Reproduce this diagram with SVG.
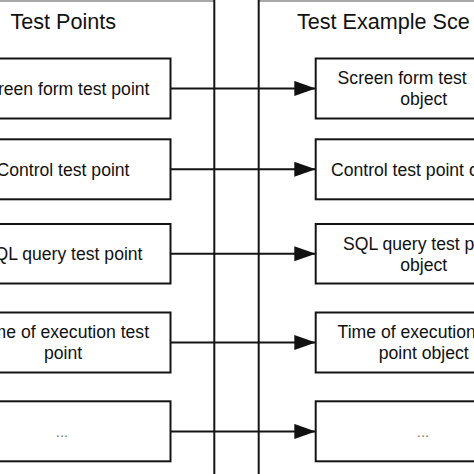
<svg xmlns="http://www.w3.org/2000/svg" width="474" height="474" viewBox="0 0 474 474">
<defs>
<style>
.box{fill:#fff;stroke:#141414;stroke-width:2}
.lane{fill:none;stroke:#141414;stroke-width:2}
.conn{fill:none;stroke:#141414;stroke-width:2}
.t{font-family:"Liberation Sans",Arial,sans-serif;font-size:17.6px;fill:#111}
.title{font-family:"Liberation Sans",Arial,sans-serif;font-size:21.6px;fill:#111}
.dots{font-family:"Liberation Sans",Arial,sans-serif;font-size:15px;fill:#777}
.m{text-anchor:middle}
</style>
<marker id="arr" markerUnits="userSpaceOnUse" markerWidth="22" markerHeight="16" refX="21.4" refY="7.5" orient="auto">
<path d="M0,0 L21.4,7.5 L0,15 Z" fill="#111"/>
</marker>
</defs>
<rect width="474" height="474" fill="#fff"/>
<g id="lanes">
<rect x="0" y="0" width="214" height="2" fill="#a8a8a8"/>
<rect x="259" y="0" width="215" height="2" fill="#a8a8a8"/>
<line class="lane" x1="214.3" y1="0" x2="214.3" y2="474"/>
<line class="lane" x1="258.7" y1="0" x2="258.7" y2="474"/>
</g>
<g id="title-left"><text class="title m" x="63.3" y="29">Test Points</text></g>
<g id="title-right"><text class="title" x="297" y="29">Test Example Sce</text></g>
<g id="connectors">
<line class="conn" x1="170.5" y1="88.4" x2="315.7" y2="88.4" marker-end="url(#arr)"/>
<line class="conn" x1="170.5" y1="169.3" x2="315.7" y2="169.3" marker-end="url(#arr)"/>
<line class="conn" x1="170.5" y1="253.7" x2="315.7" y2="253.7" marker-end="url(#arr)"/>
<line class="conn" x1="170.5" y1="342.5" x2="315.7" y2="342.5" marker-end="url(#arr)"/>
<line class="conn" x1="170.5" y1="431.4" x2="315.7" y2="431.4" marker-end="url(#arr)"/>
</g>
<g id="tp1"><rect class="box" x="-45" y="58.5" width="215.5" height="60"/><text class="t" x="-2.1" y="94.7">reen form test point</text></g>
<g id="tp2"><rect class="box" x="-45" y="139.3" width="215.5" height="60"/><text class="t" x="-3.5" y="175.6">Control test point</text></g>
<g id="tp3"><rect class="box" x="-45" y="224" width="215.5" height="59.5"/><text class="t" x="-5.5" y="260">QL query test point</text></g>
<g id="tp4"><rect class="box" x="-45" y="312.5" width="215.5" height="60"/><text class="t" x="-8.4" y="338.3">me of execution test</text><text class="t m" x="63" y="359.3">point</text></g>
<g id="tp5"><rect class="box" x="-45" y="401.3" width="215.5" height="60"/><text class="dots m" x="62" y="437">...</text></g>
<g id="ob1"><rect class="box" x="315.7" y="58.5" width="220" height="60"/><text class="t" x="337.6" y="84">Screen form test</text><text class="t m" x="423.7" y="105">object</text></g>
<g id="ob2"><rect class="box" x="315.7" y="139.3" width="220" height="60"/><text class="t" x="331" y="175.6">Control test point o</text></g>
<g id="ob3"><rect class="box" x="315.7" y="224" width="220" height="59.5"/><text class="t" x="343" y="249.5">SQL query test p</text><text class="t m" x="423.7" y="270.5">object</text></g>
<g id="ob4"><rect class="box" x="315.7" y="312.5" width="220" height="60"/><text class="t" x="337.6" y="338.3">Time of execution</text><text class="t m" x="423.7" y="359.3">point object</text></g>
<g id="ob5"><rect class="box" x="315.7" y="401.3" width="220" height="60"/><text class="dots m" x="423" y="437">...</text></g>
</svg>
